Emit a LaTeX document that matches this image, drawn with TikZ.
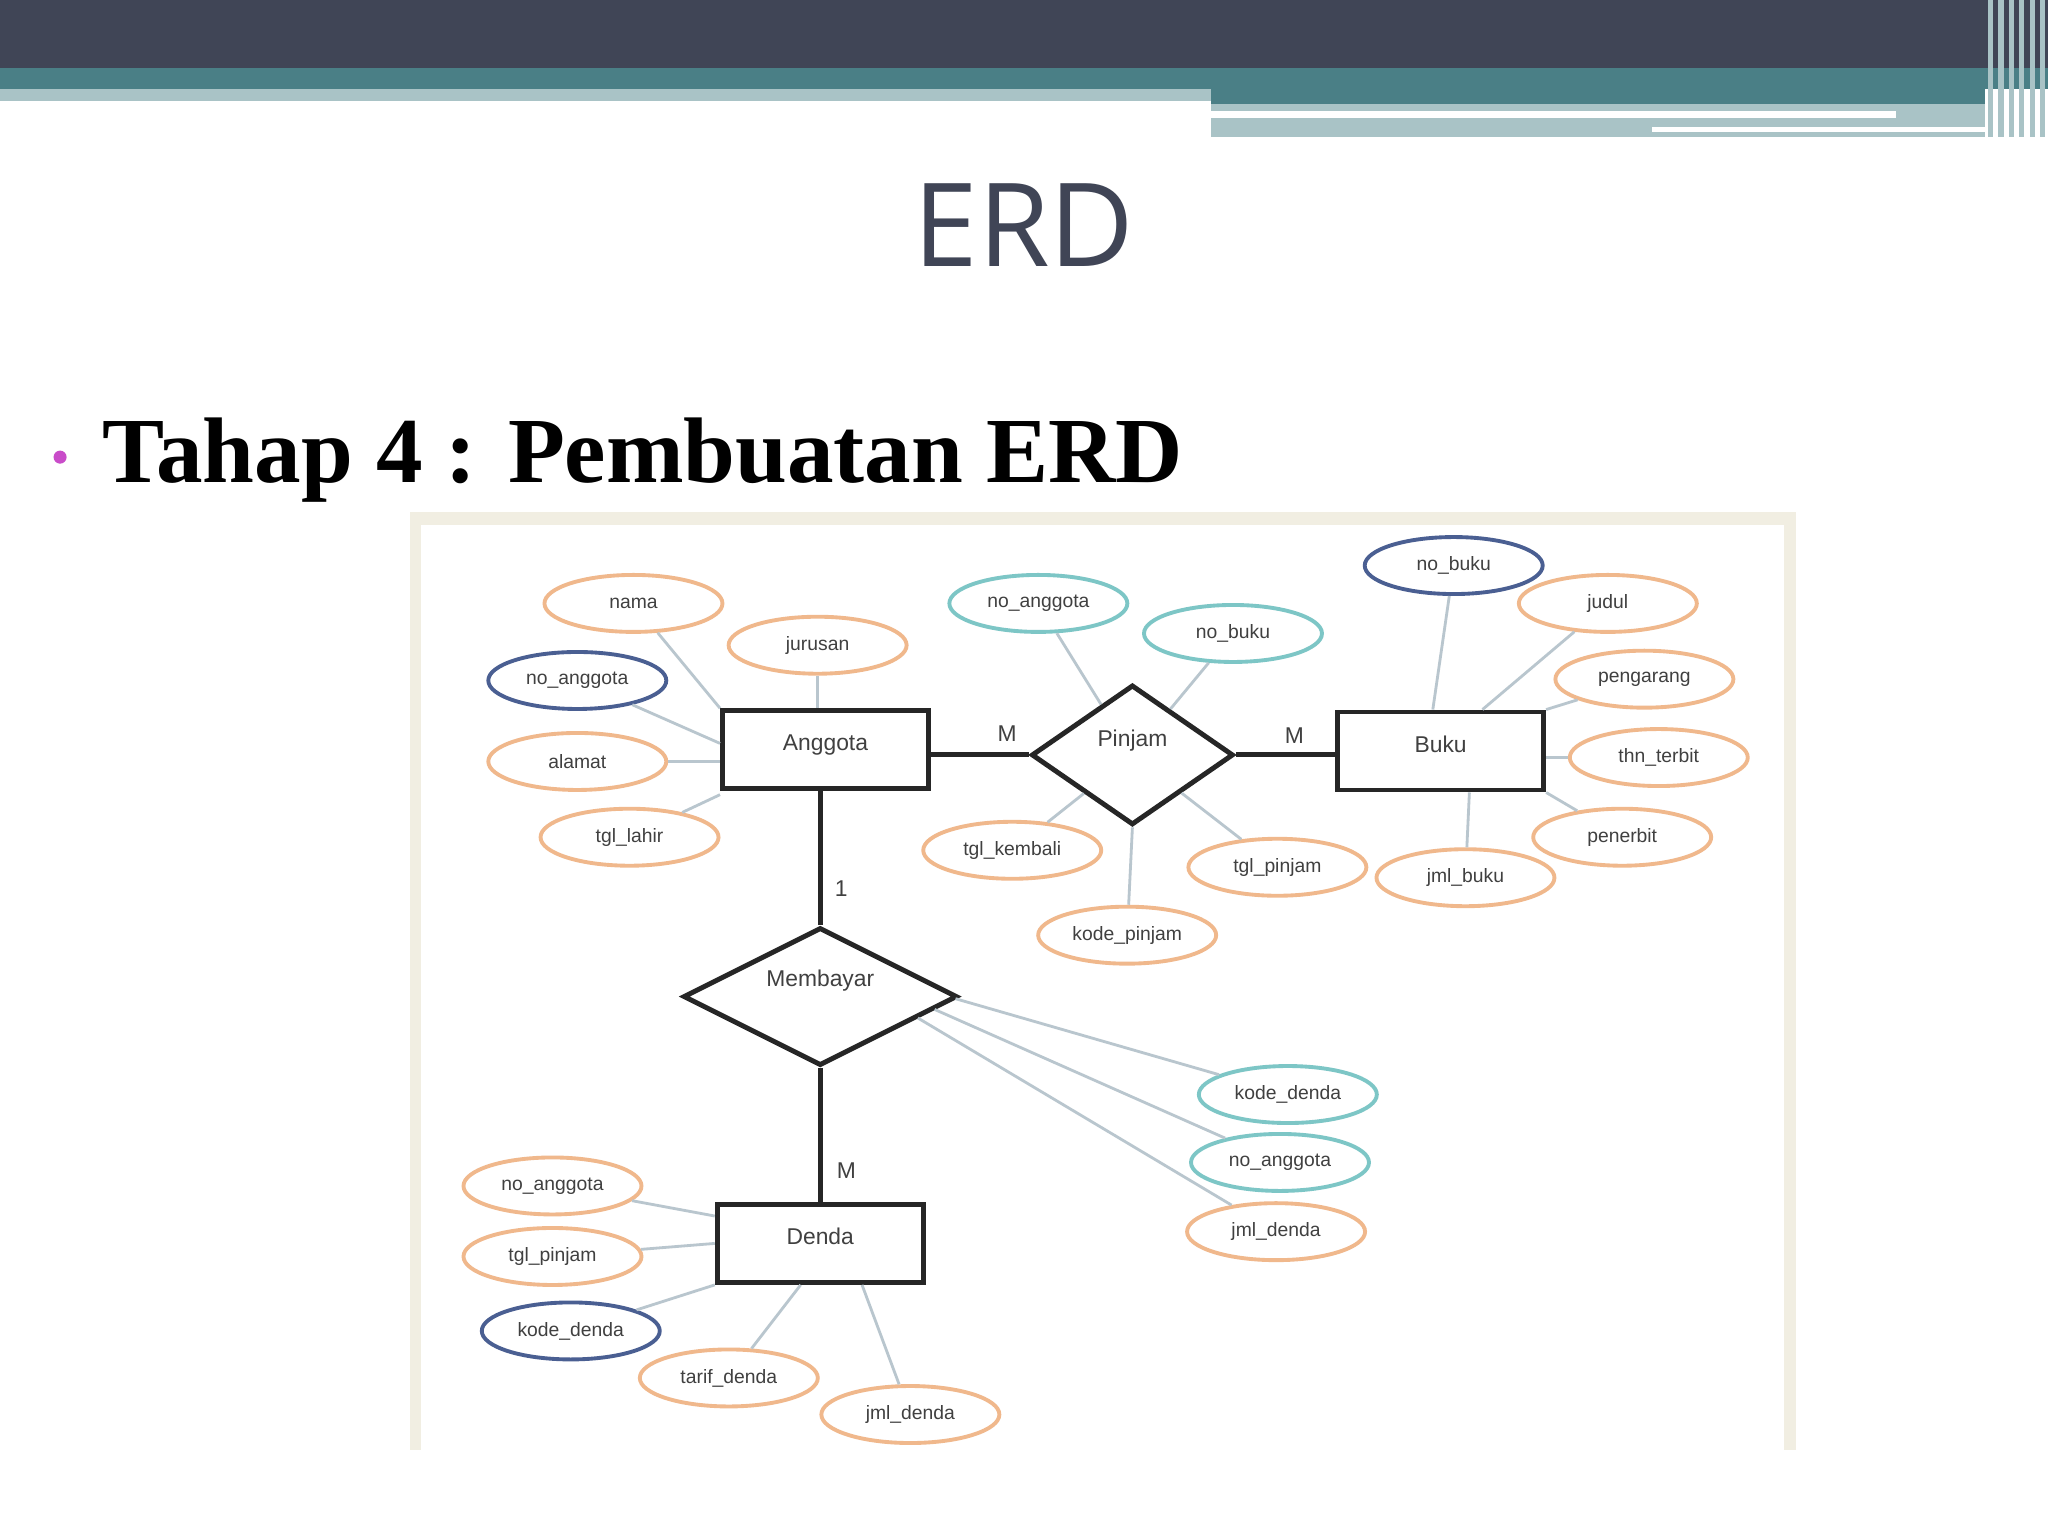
\documentclass[tikz,border=0pt]{standalone}
\usepackage{fontspec}
\setmainfont{Liberation Serif}
\newfontfamily\titlefont{Open Sans}
\newfontfamily\erdfont{Liberation Sans}
\usetikzlibrary{shapes.geometric,calc}
\definecolor{hdark}{HTML}{404556}
\definecolor{hteal}{HTML}{4A7F86}
\definecolor{hlight}{HTML}{A9C3C6}
\definecolor{aor}{HTML}{F0B88C}
\definecolor{ate}{HTML}{7DC6C6}
\definecolor{abl}{HTML}{4A5F92}
\definecolor{lnk}{HTML}{B9C6CE}
\definecolor{panel}{HTML}{F1EEE2}
\begin{document}
\begin{tikzpicture}[x=0.013061cm,y=-0.013061cm,
  attr/.style={ellipse,draw=aor,line width=1.1pt,minimum width=1.78cm,minimum height=0.57cm,inner sep=0pt,font=\erdfont\fontsize{5.5}{6.5}\selectfont,text=black!75},
  attrt/.style={attr,draw=ate},
  attrb/.style={attr,draw=abl},
  entity/.style={rectangle,draw=black!85,line width=1.4pt,minimum width=2.06cm,minimum height=0.78cm,inner sep=0pt},
  rel/.style={diamond,draw=black!85,line width=1.4pt,inner sep=0pt},
  etext/.style={font=\erdfont\fontsize{6.5}{7.5}\selectfont,text=black!75,anchor=north},
  card/.style={font=\erdfont\fontsize{6.5}{7.5}\selectfont,text=black!75},
  alink/.style={draw=lnk,line width=0.8pt},
  rlink/.style={draw=black!85,line width=1.4pt}]
\useasboundingbox (0,0) rectangle (1568,1176);
\fill[white] (0,0) rectangle (1568,1176);
% header
\fill[hdark] (0,0) rectangle (1568,52);
\fill[hteal] (0,52) rectangle (1568,68);
\fill[hlight] (0,68) rectangle (927,77);
\fill[hteal] (927,68) rectangle (1520,80);
\fill[hlight] (927,80) rectangle (1520,105);
\fill[white] (927,85) rectangle (1452,90);
\fill[white] (1265,97) rectangle (1520,101);
\foreach \xx in {1522,1530,1538,1546,1554,1562}{\fill[hlight] (\xx,0) rectangle ++(4,105);}
% titles
\node[font=\titlefont\fontsize{33}{36}\selectfont,text=hdark] (title) at (784,172) {ERD};
\fill[violet!60!magenta!70] (46,350) circle (5);
\node[font=\bfseries\fontsize{26.5}{30}\selectfont,anchor=west,inner sep=0pt] (sub) at (78,352) {Tahap 4 : Pembuatan ERD};
% panel
\fill[panel] (314,392) rectangle (1375,1110);
\fill[white] (322,402) rectangle (1366,1110);
% entities
\node[entity] (ang) at (632,574) {};
\node[etext] at ([yshift=-4pt]ang.north) {Anggota};
\node[entity] (buku) at (1103,575) {};
\node[etext] at ([yshift=-4pt]buku.north) {Buku};
\node[entity] (denda) at (628,952) {};
\node[etext] at ([yshift=-4pt]denda.north) {Denda};
\node[rel,minimum width=2.02cm,minimum height=1.40cm] (pin) at (867,578) {};
\node[etext,anchor=center] at (867,567) {Pinjam};
\node[rel,minimum width=2.74cm,minimum height=1.38cm] (bay) at (628,763) {};
\node[etext,anchor=center] at (628,751) {Membayar};
% relationship links
\draw[rlink] (ang.east |- pin) -- (pin.west);
\draw[rlink] (pin.east) -- (buku.west |- pin);
\draw[rlink] (ang.south -| bay.north) -- (bay.north);
\draw[rlink] (bay.south) -- (denda.north);
\node[card] (c1) at (771,562) {M};
\node[card] (c2) at (991,563) {M};
\node[card] (c3) at (644,680) {1};
\node[card] (c4) at (648,896) {M};
% Anggota attributes
\node[attr] (a1) at (485,462) {nama};
\node[attr] (a2) at (626,494) {jurusan};
\node[attrb] (a3) at (442,521) {no\_anggota};
\node[attr] (a4) at (442,583) {alamat};
\node[attr] (a5) at (482,641) {tgl\_lahir};
\draw[alink] (a1) -- (ang.north west);
\draw[alink] (a2) -- (ang.north -| a2);
\draw[alink] (a3) -- ([yshift=-10pt]ang.north west);
\draw[alink] (a4) -- (ang.west |- a4);
\draw[alink] (a5) -- ([yshift=-1pt]ang.south west);
% Pinjam attributes
\node[attrt] (p1) at (795,462) {no\_anggota};
\node[attrt] (p2) at (944,485) {no\_buku};
\node[attr] (p3) at (775,651) {tgl\_kembali};
\node[attr] (p4) at (978,664) {tgl\_pinjam};
\node[attr] (p5) at (863,716) {kode\_pinjam};
\draw[alink] (p1) -- (pin);
\draw[alink] (p2) -- (pin);
\draw[alink] (p3) -- (pin);
\draw[alink] (p4) -- (pin);
\draw[alink] (p5) -- (pin.south);
% Buku attributes
\node[attrb] (b1) at (1113,433) {no\_buku};
\node[attr] (b2) at (1231,462) {judul};
\node[attr] (b3) at (1259,520) {pengarang};
\node[attr] (b4) at (1270,580) {thn\_terbit};
\node[attr] (b5) at (1242,641) {penerbit};
\node[attr] (b6) at (1122,672) {jml\_buku};
\draw[alink] (b1) -- (buku.north -| 1097,0);
\draw[alink] (b2) -- (buku.north -| 1135,0);
\draw[alink] (b3) -- (buku.north east);
\draw[alink] (b4) -- (buku.east |- b4);
\draw[alink] (b5) -- (buku.south east);
\draw[alink] (b6) -- (buku.south -| 1125,0);
% Membayar attributes
\node[attrt] (m1) at (986,838) {kode\_denda};
\node[attrt] (m2) at (980,890) {no\_anggota};
\node[attr] (m3) at (977,943) {jml\_denda};
\draw[alink] (m1) -- ($(bay.east)!0.03!(bay.south)$);
\draw[alink] (m2) -- ($(bay.east)!0.18!(bay.south)$);
\draw[alink] (m3) -- ($(bay.east)!0.3!(bay.south)$);
% Denda attributes
\node[attr] (d1) at (423,908) {no\_anggota};
\node[attr] (d2) at (423,962) {tgl\_pinjam};
\node[attrb] (d3) at (437,1019) {kode\_denda};
\node[attr] (d4) at (558,1055) {tarif\_denda};
\node[attr] (d5) at (697,1083) {jml\_denda};
\draw[alink] (d1) -- ([yshift=-4pt]denda.north west);
\draw[alink] (d2) -- (denda.west);
\draw[alink] (d3) -- (denda.south west);
\draw[alink] (d4) -- (denda.south -| 613,0);
\draw[alink] (d5) -- (denda.south -| 660,0);
\end{tikzpicture}
\end{document}
